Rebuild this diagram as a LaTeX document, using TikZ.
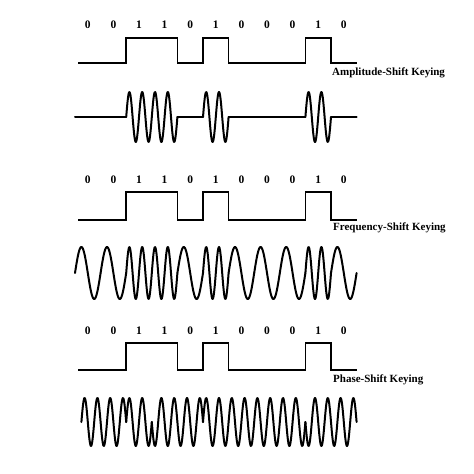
\documentclass[tikz,border=0pt]{standalone}
\usepackage{fontspec}
\setmainfont{Liberation Serif}

\tikzset{
  digital/.style={line width=1.5pt, line join=miter},
  carrier/.style={line width=2pt, line cap=round, line join=round},
  bitdigit/.style={font=\fontsize{11.5}{12}\bfseries\selectfont, inner sep=0pt},
  keyname/.style={font=\fontsize{11}{13}\bfseries\selectfont, anchor=base west, inner sep=0pt}
}
\def\xo{75}
\def\bw{25.6}

\begin{document}
\begin{tikzpicture}[x=1pt,y=-1pt]
\useasboundingbox (0,0) rectangle (474,474);

% bit string and its level signal, one row per keying
\foreach \yd/\ylo/\yhi/\nm in {25/63/38/a,180/220/192/f,331/370/343/p}{
  \foreach \b [count=\i from 0] in {0,0,1,1,0,1,0,0,0,1,0}
    \node[bitdigit] (\nm\i) at (\xo+\i*\bw+0.5*\bw,\yd) {\b};
  \draw[digital] (78,\ylo) -- (\xo+2*\bw,\ylo) -- (\xo+2*\bw,\yhi) -- (\xo+4*\bw,\yhi)
    -- (\xo+4*\bw,\ylo) -- (\xo+5*\bw,\ylo) -- (\xo+5*\bw,\yhi) -- (\xo+6*\bw,\yhi)
    -- (\xo+6*\bw,\ylo) -- (\xo+9*\bw,\ylo) -- (\xo+9*\bw,\yhi) -- (\xo+10*\bw,\yhi)
    -- (\xo+10*\bw,\ylo) -- (357,\ylo);
}

\node[keyname] (ask) at (332,75) {Amplitude-Shift Keying};
\node[keyname] (fsk) at (333,230) {Frequency-Shift Keying};
\node[keyname] (psk) at (333,382) {Phase-Shift Keying};

% amplitude shift: carrier on for a 1
\foreach \b [count=\i from 0] in {0,0,1,1,0,1,0,0,0,1,0}{
  \pgfmathsetmacro\xa{\xo+\i*\bw}
  \pgfmathsetmacro\xb{\xa+\bw}
  \draw[carrier] plot[domain=\xa:\xb, samples=60] (\x,{117-25*\b*sin((\x-\xa)/\bw*720)});
}

% frequency shift: one cycle for a 0, two for a 1
\foreach \b [count=\i from 0] in {0,0,1,1,0,1,0,0,0,1,0}{
  \pgfmathsetmacro\xa{\xo+\i*\bw}
  \pgfmathsetmacro\xb{\xa+\bw}
  \draw[carrier] plot[domain=\xa:\xb, samples=60] (\x,{273-26*sin((\x-\xa)/\bw*360*(1+\b))});
}

% phase shift: sign flips at every 1
\foreach \s [count=\i from 0] in {-1,-1,1,-1,-1,1,1,1,1,-1,-1}{
  \pgfmathsetmacro\xa{\xo+\i*\bw+(\i==0)*\bw/4}
  \pgfmathsetmacro\xb{\xo+(\i+1)*\bw}
  \draw[carrier] plot[domain=\xa:\xb, samples=60] (\x,{422-24*\s*sin((\x-\xo)/\bw*720)});
}

\end{tikzpicture}
\end{document}
